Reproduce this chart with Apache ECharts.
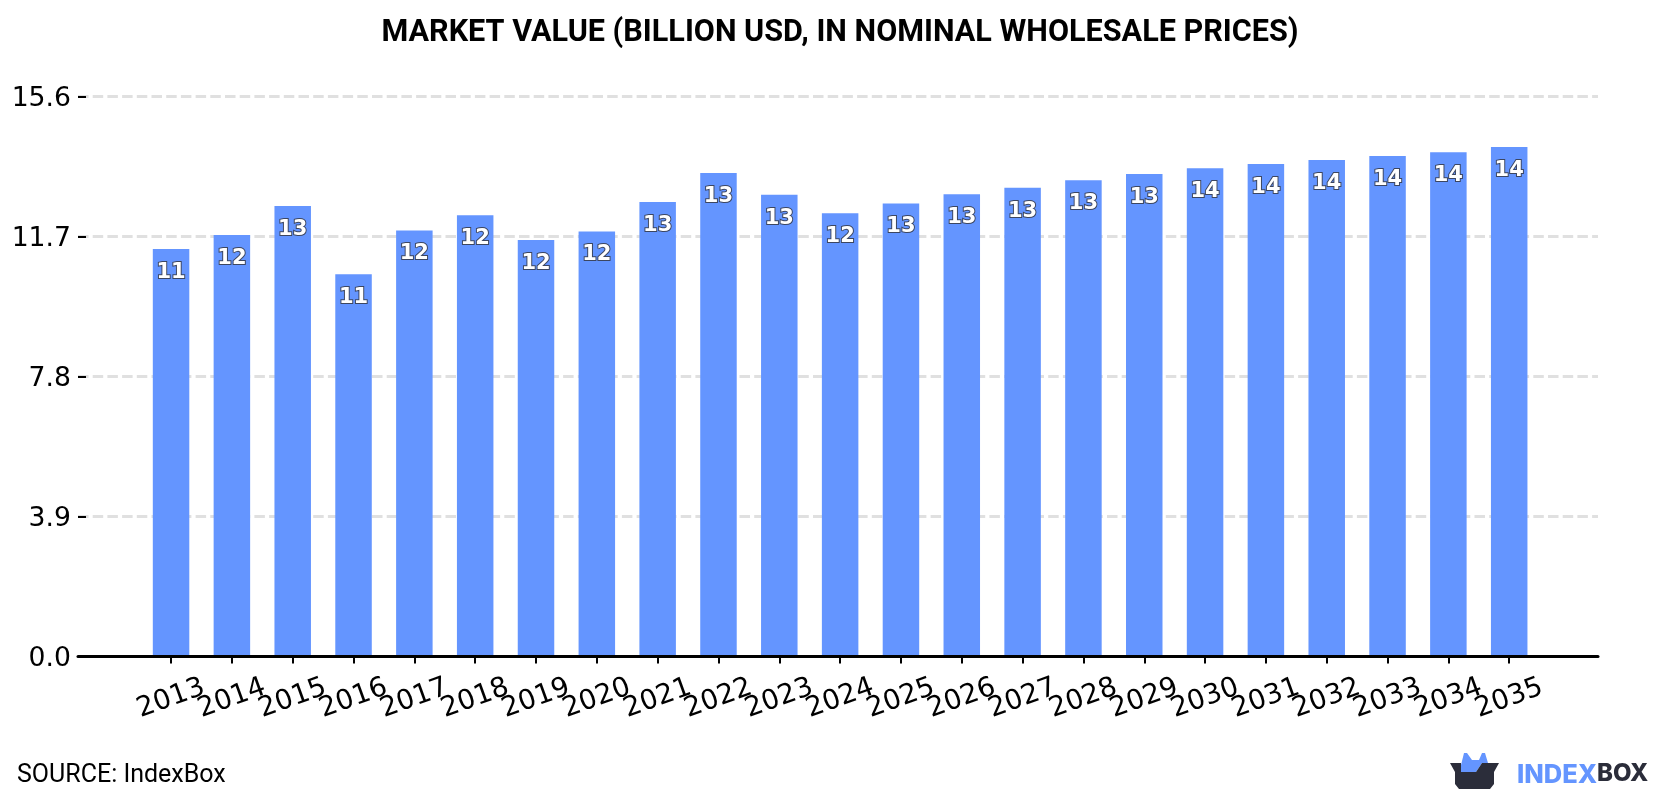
<!DOCTYPE html>
<html>
<head>
<meta charset="utf-8">
<style>html,body{margin:0;padding:0;background:#fff}#chart{width:1680px;height:800px}</style>
<script src="https://cdn.jsdelivr.net/npm/echarts@6/dist/echarts.min.js"></script>
</head>
<body>
<div id="chart"></div>
<script>
// Market value per year; forecast years run through 2035.
const years = [2013,2014,2015,2016,2017,2018,2019,2020,2021,2022,2023,2024,
  2025,2026,2027,2028,2029,2030,2031,2032,2033,2034,2035];
const marketValue = [11.35,11.74,12.55,10.65,11.87,12.29,11.6,11.84,12.66,13.47,12.86,12.35,
  12.62,12.88,13.06,13.27,13.44,13.6,13.72,13.83,13.94,14.05,14.19];
const yTicks = [0, 3.9, 7.8, 11.7, 15.6];
const xMin = 2011.47;
const xMax = 2036.46;
const titleText = 'MARKET VALUE (BILLION USD, IN NOMINAL WHOLESALE PRICES)';
const sourceText = 'SOURCE: IndexBox';

const chart = echarts.init(document.getElementById('chart'), null, {renderer: 'canvas'});
chart.setOption({
  animation: false,
  backgroundColor: '#fff',
  title: {
    text: titleText, left: 'center', top: 13,
    textStyle: {fontFamily: 'Roboto', fontWeight: 700, fontSize: 30.6, color: '#000'}
  },
  grid: {left: 78, width: 1520, top: 96.5, height: 560, containLabel: false},
  xAxis: {
    type: 'value',
    min: xMin,
    max: xMax,
    z: 5,
    axisLine: {onZero: false, lineStyle: {color: '#000', width: 3}},
    axisTick: {
      show: true, inside: false, length: 7, customValues: years,
      lineStyle: {color: '#000', width: 2}
    },
    axisLabel: {
      // Blank labels at the axis ends keep the outer years from being dropped as overlaps
      customValues: [xMin, ...years, xMax], rotate: 20, align: 'center', verticalAlign: 'middle', margin: 42,
      showMinLabel: true, showMaxLabel: true,
      fontFamily: 'DejaVu Sans', fontSize: 27.5, color: '#000',
      formatter: v => years.includes(v) ? String(v) : ''
    },
    splitLine: {show: false}
  },
  yAxis: {
    type: 'value', min: 0, max: yTicks[4], interval: yTicks[1],
    axisLine: {show: false},
    axisTick: {show: true, inside: true, length: 8, lineStyle: {color: '#000', width: 2}},
    axisLabel: {
      margin: 7, color: '#000',
      formatter: v => '{t|' + v.toFixed(1) + '}',
      rich: {t: {fontFamily: 'DejaVu Sans', fontSize: 26.67, color: '#000', padding: [5, 0, 0, 0]}}
    },
    splitLine: {lineStyle: {color: '#e0e0e0', width: 3, type: [10.5, 4.2]}}
  },
  series: [{
    type: 'bar',
    data: years.map((y, i) => [y, marketValue[i]]),
    barWidth: 36.5,
    itemStyle: {color: '#6495ff'},
    label: {
      show: true, position: 'insideTop', distance: 13,
      fontFamily: 'DejaVu Sans', fontWeight: 700, fontSize: 21, color: '#fff',
      textBorderColor: '#3c4660', textBorderWidth: 2,
      formatter: p => String(Math.round(p.value[1]))
    }
  }],
  graphic: [
    {type: 'text', left: 17, top: 763, style: {text: sourceText, fontFamily: 'Roboto', fontSize: 25, fill: '#000'}},
    // Brand mark: blue contents rising out of a dark open box
    {type: 'polygon', shape: {points: [[1461,772],[1461,765],[1464,753],[1467,753],[1472,760],[1479,760],[1482,753],[1485,753],[1488,763],[1482,763],[1476,772]]}, style: {fill: '#6495ff'}},
    {type: 'polygon', shape: {points: [[1450,763],[1461,763],[1461,772],[1476,772],[1482,763],[1499,763],[1494,772],[1494,784],[1490,789],[1459,789],[1455,784],[1455,772]]}, style: {fill: '#2b2d3a'}},
    {type: 'text', left: 1517, top: 762, style: {text: 'INDEX', fontFamily: 'Inter', fontWeight: 800, fontSize: 25.5, fill: '#6495ff'}},
    {type: 'text', left: 1597, top: 762, style: {text: 'BOX', fontFamily: 'Inter', fontWeight: 800, fontSize: 24, fill: '#2b2d3a'}}
  ]
});
</script>
</body>
</html>
